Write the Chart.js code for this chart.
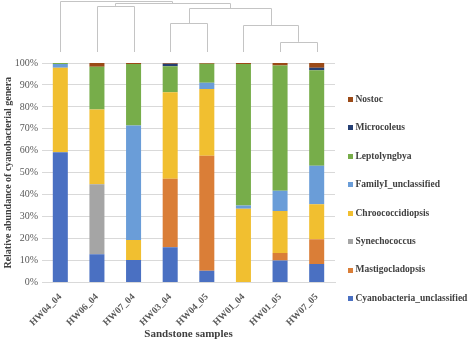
<!DOCTYPE html>
<html>
<head>
<meta charset="utf-8">
<script src="https://cdn.jsdelivr.net/npm/chart.js@4/dist/chart.umd.min.js"></script>
<style>
  html, body { margin: 0; padding: 0; background: #fff; }
  #wrap { width: 474px; height: 341px; }
</style>
</head>
<body>
<div id="wrap"><canvas id="genusChart" width="474" height="341"></canvas></div>
<script>
// samples (x categories, in dendrogram order)
var samples = ["HW04_04", "HW06_04", "HW07_04", "HW03_04", "HW04_05", "HW01_04", "HW01_05", "HW07_05"];

// genera, bottom of the stack first
var genera = ["Cyanobacteria_unclassified", "Mastigocladopsis", "Synechococcus", "Chroococcidiopsis",
              "FamilyI_unclassified", "Leptolyngbya", "Microcoleus", "Nostoc"];

// relative abundance (%) per genus, one value per sample
var cyanobacteria = [59.3, 12.9, 10.3, 16.1, 5.4, 0, 10.0, 8.4];
var mastigocladopsis = [0, 0, 0, 31.2, 52.4, 0, 3.4, 11.3];
var synechococcus = [0, 31.9, 0, 0, 0, 0, 0, 0];
var chroococcidiopsis = [38.5, 34.0, 9.1, 39.4, 30.4, 33.6, 19.2, 16.0];
var family1 = [1.7, 0, 52.1, 0, 2.8, 1.5, 9.2, 17.5];
var leptolyngbya = [0.5, 19.5, 28.0, 11.8, 8.7, 64.5, 57.1, 43.5];
var microcoleus = [0, 0, 0, 1.2, 0, 0, 0, 1.1];
var nostoc = [0, 1.7, 0.5, 0.3, 0.3, 0.4, 1.1, 2.2];

var yTicks = [0, 10, 20, 30, 40, 50, 60, 70, 80, 90, 100];

// dendrogram merges: [left node, right node, height 0..1]; leaves are 0..7, new nodes from 8
var merges = [
    [6, 7, 0.2],
    [3, 4, 0.565],
    [5, 8, 0.53],
    [9, 10, 0.855],
    [1, 2, 0.905],
    [12, 11, 0.96],
    [0, 13, 1.0]
];

var series = [cyanobacteria, mastigocladopsis, synechococcus, chroococcidiopsis, family1, leptolyngbya, microcoleus, nostoc];
var colors = ["#4A70C2", "#DA7E37", "#A5A5A5", "#F1BF30", "#6A9DD8", "#77AD4A", "#253F73", "#9B4A17"];

var serif = "'Liberation Serif', 'Times New Roman', serif";

// dendrogram on top of the chart
var dendroPlugin = {
    id: 'dendro',
    afterDraw: function(chart) {
        var ctx = chart.ctx;
        var xs = chart.scales.x;
        var leafY = 52, topY = 1;
        var nodes = [];
        for (var i = 0; i < samples.length; i++) {
            nodes.push({ x: xs.getPixelForValue(i), y: leafY });
        }
        ctx.save();
        ctx.strokeStyle = '#C4C4C4';
        ctx.lineWidth = 1;
        merges.forEach(function(m) {
            var a = nodes[m[0]], b = nodes[m[1]];
            var y = leafY - m[2] * (leafY - topY);
            ctx.beginPath();
            ctx.moveTo(Math.round(a.x) + 0.5, a.y);
            ctx.lineTo(Math.round(a.x) + 0.5, Math.round(y) + 0.5);
            ctx.lineTo(Math.round(b.x) + 0.5, Math.round(y) + 0.5);
            ctx.lineTo(Math.round(b.x) + 0.5, b.y);
            ctx.stroke();
            nodes.push({ x: (a.x + b.x) / 2, y: y });
        });
        ctx.restore();
    }
};

// legend on the right, top item = top of the stack
var legendPlugin = {
    id: 'sideLegend',
    afterDraw: function(chart) {
        var ctx = chart.ctx;
        var x0 = 348, y0 = 99.3, step = 28.45;
        ctx.save();
        ctx.font = 'bold 9.5px ' + serif;
        ctx.textBaseline = 'middle';
        ctx.textAlign = 'left';
        var ds = chart.data.datasets;
        for (var i = ds.length - 1, k = 0; i >= 0; i--, k++) {
            var y = y0 + k * step;
            ctx.fillStyle = ds[i].backgroundColor;
            ctx.fillRect(x0, Math.round(y - 2.5), 5, 5);
            ctx.fillStyle = '#404040';
            ctx.fillText(ds[i].label, x0 + 7.5, y);
        }
        ctx.restore();
    }
};

var datasets = genera.map(function(name, i) {
    return {
        label: name,
        data: series[i],
        backgroundColor: colors[i],
        borderWidth: 0,
        categoryPercentage: 1,
        barPercentage: 0.41
    };
});

var ctx = document.getElementById('genusChart').getContext('2d');
var chart = new Chart(ctx, {
    type: 'bar',
    data: { labels: samples, datasets: datasets },
    plugins: [dendroPlugin, legendPlugin],
    options: {
        responsive: false,
        animation: false,
        layout: { padding: { top: 63, right: 139, left: 0, bottom: 0 } },
        scales: {
            x: {
                stacked: true,
                grid: { display: false },
                border: { color: '#D9D9D9' },
                ticks: {
                    color: '#595959',
                    font: { family: serif, size: 9.5, weight: 'bold' },
                    minRotation: 45,
                    maxRotation: 45,
                    padding: 1
                },
                title: {
                    display: true,
                    text: 'Sandstone samples',
                    color: '#404040',
                    font: { family: serif, size: 11, weight: 'bold' },
                    padding: { top: 0, bottom: 0 }
                },
                afterFit: function(s) { s.height = 58.5; }
            },
            y: {
                stacked: true,
                min: 0,
                max: 100,
                afterBuildTicks: function(s) {
                    s.ticks = yTicks.map(function(v) { return { value: v }; });
                },
                grid: { color: '#D9D9D9', drawTicks: false },
                border: { display: false },
                ticks: {
                    color: '#595959',
                    font: { family: serif, size: 10 },
                    padding: 4,
                    callback: function(v) { return v + '%'; }
                },
                title: {
                    display: true,
                    text: 'Relative abundance of cyanobacterial genera',
                    color: '#404040',
                    font: { family: serif, size: 10, weight: 'bold' },
                    padding: 2
                },
                afterFit: function(s) { s.width = 42; }
            }
        },
        plugins: {
            legend: { display: false },
            tooltip: { enabled: false }
        }
    }
});
</script>
</body>
</html>
